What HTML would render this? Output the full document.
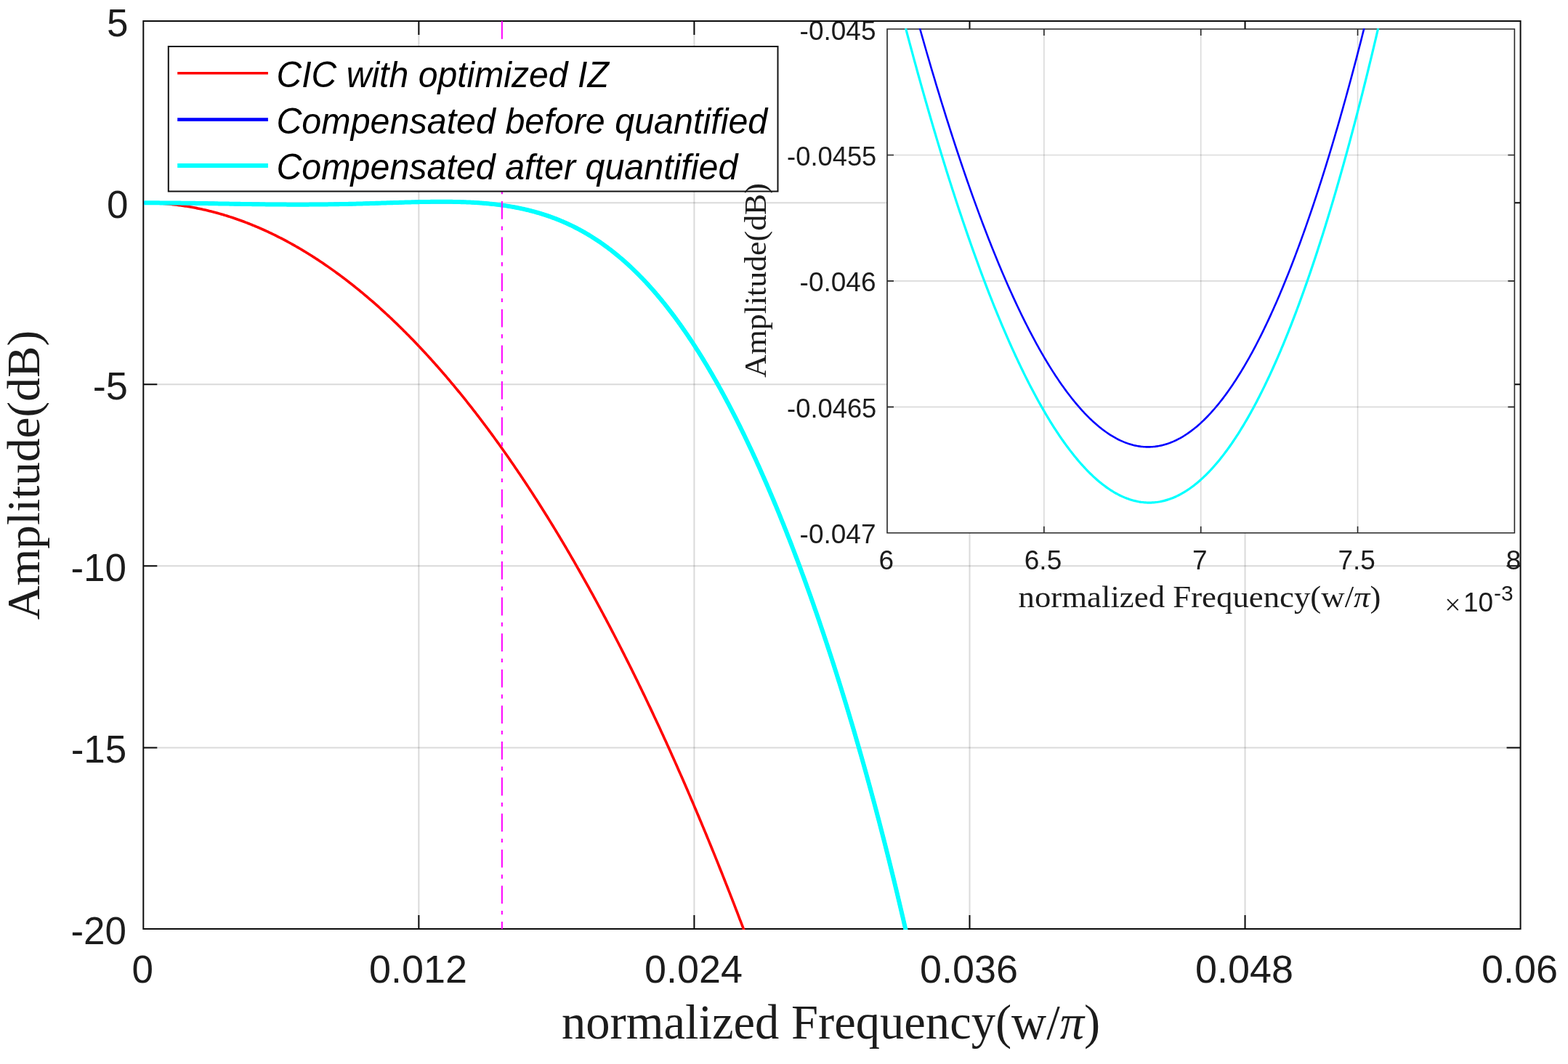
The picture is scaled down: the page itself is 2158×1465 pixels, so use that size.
<!DOCTYPE html>
<html><head><meta charset="utf-8"><title>plot</title>
<style>html,body{margin:0;padding:0;background:#fff;}svg{display:block;}</style>
</head><body>
<svg width="2158" height="1465" viewBox="0 0 2158 1465">
<rect x="0" y="0" width="2158" height="1465" fill="#fff"/>
<defs><clipPath id="cm"><rect x="198.3" y="28.0" width="1893.3" height="1252.0"/></clipPath><clipPath id="ci"><rect x="1220.2" y="39.2" width="865.0000000000001" height="695.4"/></clipPath></defs>
<g stroke="#262626" stroke-opacity="0.17" stroke-width="2" fill="none"><path d="M576.36,29.3V1279.4"/><path d="M955.42,29.3V1279.4"/><path d="M1334.48,29.3V1279.4"/><path d="M1713.54,29.3V1279.4"/><path d="M197.3,279.32H2092.6"/><path d="M197.3,529.34H2092.6"/><path d="M197.3,779.36H2092.6"/><path d="M197.3,1029.38H2092.6"/></g>
<path d="M197.3,29.0H2092.6V1279.0H197.3ZM576.36,1279.0v-19M576.36,29.0v19M955.42,1279.0v-19M955.42,29.0v19M1334.48,1279.0v-19M1334.48,29.0v19M1713.54,1279.0v-19M1713.54,29.0v19M197.3,279.32h19M2092.6,279.32h-19M197.3,529.34h19M2092.6,529.34h-19M197.3,779.36h19M2092.6,779.36h-19M197.3,1029.38h19M2092.6,1029.38h-19" stroke="#0c0c0c" stroke-width="2" fill="none"/>
<g clip-path="url(#cm)" fill="none" stroke-linejoin="round">
<path d="M197.30,279.32 L198.71,279.32 L200.13,279.33 L201.54,279.34 L202.95,279.36 L204.37,279.39 L205.78,279.42 L207.19,279.45 L208.61,279.49 L210.02,279.54 L211.43,279.59 L212.85,279.65 L214.26,279.71 L215.67,279.78 L217.09,279.85 L218.50,279.93 L219.91,280.01 L221.33,280.10 L222.74,280.19 L224.15,280.29 L225.57,280.40 L226.98,280.51 L228.39,280.63 L229.81,280.75 L231.22,280.87 L232.63,281.01 L234.05,281.14 L235.46,281.29 L236.87,281.44 L238.29,281.59 L239.70,281.75 L241.11,281.91 L242.53,282.08 L243.94,282.26 L245.35,282.44 L246.77,282.63 L248.18,282.82 L249.59,283.02 L251.01,283.22 L252.42,283.43 L253.83,283.64 L255.25,283.86 L256.66,284.08 L258.07,284.31 L259.49,284.55 L260.90,284.79 L262.31,285.03 L263.73,285.28 L265.14,285.54 L266.55,285.80 L267.97,286.07 L269.38,286.34 L270.79,286.62 L272.20,286.91 L273.62,287.20 L275.03,287.49 L276.44,287.79 L277.86,288.10 L279.27,288.41 L280.68,288.72 L282.10,289.04 L283.51,289.37 L284.92,289.70 L286.34,290.04 L287.75,290.38 L289.16,290.73 L290.58,291.09 L291.99,291.45 L293.40,291.81 L294.82,292.18 L296.23,292.56 L297.64,292.94 L299.06,293.33 L300.47,293.72 L301.88,294.12 L303.30,294.52 L304.71,294.93 L306.12,295.34 L307.54,295.76 L308.95,296.19 L310.36,296.62 L311.78,297.05 L313.19,297.49 L314.60,297.94 L316.02,298.39 L317.43,298.85 L318.84,299.31 L320.26,299.78 L321.67,300.26 L323.08,300.73 L324.50,301.22 L325.91,301.71 L327.32,302.21 L328.74,302.71 L330.15,303.21 L331.56,303.73 L332.98,304.24 L334.39,304.77 L335.80,305.29 L337.22,305.83 L338.63,306.37 L340.04,306.91 L341.46,307.46 L342.87,308.02 L344.28,308.58 L345.70,309.15 L347.11,309.72 L348.52,310.30 L349.94,310.88 L351.35,311.47 L352.76,312.06 L354.18,312.66 L355.59,313.27 L357.00,313.88 L358.42,314.49 L359.83,315.11 L361.24,315.74 L362.66,316.37 L364.07,317.01 L365.48,317.66 L366.90,318.31 L368.31,318.96 L369.72,319.62 L371.14,320.29 L372.55,320.96 L373.96,321.63 L375.38,322.31 L376.79,323.00 L378.20,323.70 L379.62,324.39 L381.03,325.10 L382.44,325.81 L383.86,326.52 L385.27,327.24 L386.68,327.97 L388.10,328.70 L389.51,329.44 L390.92,330.18 L392.34,330.93 L393.75,331.68 L395.16,332.44 L396.58,333.21 L397.99,333.98 L399.40,334.75 L400.82,335.53 L402.23,336.32 L403.64,337.11 L405.06,337.91 L406.47,338.72 L407.88,339.53 L409.30,340.34 L410.71,341.16 L412.12,341.99 L413.54,342.82 L414.95,343.65 L416.36,344.50 L417.77,345.35 L419.19,346.20 L420.60,347.06 L422.01,347.92 L423.43,348.79 L424.84,349.67 L426.25,350.55 L427.67,351.44 L429.08,352.33 L430.49,353.23 L431.91,354.13 L433.32,355.04 L434.73,355.96 L436.15,356.88 L437.56,357.81 L438.97,358.74 L440.39,359.67 L441.80,360.62 L443.21,361.57 L444.63,362.52 L446.04,363.48 L447.45,364.45 L448.87,365.42 L450.28,366.39 L451.69,367.38 L453.11,368.36 L454.52,369.36 L455.93,370.36 L457.35,371.36 L458.76,372.37 L460.17,373.39 L461.59,374.41 L463.00,375.44 L464.41,376.47 L465.83,377.51 L467.24,378.56 L468.65,379.61 L470.07,380.66 L471.48,381.72 L472.89,382.79 L474.31,383.86 L475.72,384.94 L477.13,386.03 L478.55,387.12 L479.96,388.21 L481.37,389.31 L482.79,390.42 L484.20,391.53 L485.61,392.65 L487.03,393.77 L488.44,394.90 L489.85,396.04 L491.27,397.18 L492.68,398.33 L494.09,399.48 L495.51,400.64 L496.92,401.80 L498.33,402.97 L499.75,404.15 L501.16,405.33 L502.57,406.51 L503.99,407.71 L505.40,408.91 L506.81,410.11 L508.23,411.32 L509.64,412.54 L511.05,413.76 L512.47,414.98 L513.88,416.22 L515.29,417.46 L516.71,418.70 L518.12,419.95 L519.53,421.21 L520.95,422.47 L522.36,423.73 L523.77,425.01 L525.19,426.29 L526.60,427.57 L528.01,428.86 L529.43,430.16 L530.84,431.46 L532.25,432.77 L533.67,434.08 L535.08,435.40 L536.49,436.73 L537.91,438.06 L539.32,439.40 L540.73,440.74 L542.15,442.09 L543.56,443.44 L544.97,444.80 L546.39,446.17 L547.80,447.54 L549.21,448.92 L550.63,450.30 L552.04,451.69 L553.45,453.09 L554.87,454.49 L556.28,455.90 L557.69,457.31 L559.11,458.73 L560.52,460.15 L561.93,461.58 L563.34,463.02 L564.76,464.46 L566.17,465.91 L567.58,467.37 L569.00,468.83 L570.41,470.29 L571.82,471.76 L573.24,473.24 L574.65,474.73 L576.06,476.22 L577.48,477.71 L578.89,479.21 L580.30,480.72 L581.72,482.23 L583.13,483.75 L584.54,485.28 L585.96,486.81 L587.37,488.35 L588.78,489.89 L590.20,491.44 L591.61,493.00 L593.02,494.56 L594.44,496.12 L595.85,497.70 L597.26,499.28 L598.68,500.86 L600.09,502.45 L601.50,504.05 L602.92,505.65 L604.33,507.26 L605.74,508.88 L607.16,510.50 L608.57,512.13 L609.98,513.76 L611.40,515.40 L612.81,517.04 L614.22,518.70 L615.64,520.35 L617.05,522.02 L618.46,523.69 L619.88,525.36 L621.29,527.04 L622.70,528.73 L624.12,530.43 L625.53,532.13 L626.94,533.83 L628.36,535.54 L629.77,537.26 L631.18,538.99 L632.60,540.72 L634.01,542.45 L635.42,544.20 L636.84,545.95 L638.25,547.70 L639.66,549.46 L641.08,551.23 L642.49,553.00 L643.90,554.78 L645.32,556.57 L646.73,558.36 L648.14,560.16 L649.56,561.96 L650.97,563.77 L652.38,565.59 L653.80,567.41 L655.21,569.24 L656.62,571.08 L658.04,572.92 L659.45,574.77 L660.86,576.62 L662.28,578.48 L663.69,580.35 L665.10,582.22 L666.52,584.10 L667.93,585.98 L669.34,587.87 L670.76,589.77 L672.17,591.68 L673.58,593.59 L675.00,595.50 L676.41,597.42 L677.82,599.35 L679.24,601.29 L680.65,603.23 L682.06,605.18 L683.48,607.13 L684.89,609.09 L686.30,611.06 L687.72,613.03 L689.13,615.01 L690.54,617.00 L691.96,618.99 L693.37,620.99 L694.78,622.99 L696.20,625.01 L697.61,627.02 L699.02,629.05 L700.44,631.08 L701.85,633.11 L703.26,635.16 L704.68,637.21 L706.09,639.26 L707.50,641.33 L708.91,643.40 L710.33,645.47 L711.74,647.55 L713.15,649.64 L714.57,651.74 L715.98,653.84 L717.39,655.94 L718.81,658.06 L720.22,660.18 L721.63,662.31 L723.05,664.44 L724.46,666.58 L725.87,668.73 L727.29,670.88 L728.70,673.04 L730.11,675.20 L731.53,677.38 L732.94,679.56 L734.35,681.74 L735.77,683.93 L737.18,686.13 L738.59,688.34 L740.01,690.55 L741.42,692.77 L742.83,694.99 L744.25,697.23 L745.66,699.46 L747.07,701.71 L748.49,703.96 L749.90,706.22 L751.31,708.48 L752.73,710.76 L754.14,713.03 L755.55,715.32 L756.97,717.61 L758.38,719.91 L759.79,722.21 L761.21,724.53 L762.62,726.84 L764.03,729.17 L765.45,731.50 L766.86,733.84 L768.27,736.18 L769.69,738.54 L771.10,740.89 L772.51,743.26 L773.93,745.63 L775.34,748.01 L776.75,750.40 L778.17,752.79 L779.58,755.19 L780.99,757.59 L782.41,760.01 L783.82,762.43 L785.23,764.85 L786.65,767.29 L788.06,769.73 L789.47,772.17 L790.89,774.63 L792.30,777.09 L793.71,779.55 L795.13,782.03 L796.54,784.51 L797.95,787.00 L799.37,789.49 L800.78,792.00 L802.19,794.51 L803.61,797.02 L805.02,799.54 L806.43,802.07 L807.85,804.61 L809.26,807.15 L810.67,809.71 L812.09,812.26 L813.50,814.83 L814.91,817.40 L816.33,819.98 L817.74,822.56 L819.15,825.16 L820.57,827.76 L821.98,830.36 L823.39,832.98 L824.81,835.60 L826.22,838.23 L827.63,840.86 L829.05,843.50 L830.46,846.15 L831.87,848.81 L833.29,851.47 L834.70,854.14 L836.11,856.82 L837.53,859.51 L838.94,862.20 L840.35,864.90 L841.77,867.61 L843.18,870.32 L844.59,873.04 L846.01,875.77 L847.42,878.50 L848.83,881.25 L850.25,884.00 L851.66,886.75 L853.07,889.52 L854.48,892.29 L855.90,895.07 L857.31,897.85 L858.72,900.65 L860.14,903.45 L861.55,906.26 L862.96,909.07 L864.38,911.90 L865.79,914.73 L867.20,917.56 L868.62,920.41 L870.03,923.26 L871.44,926.12 L872.86,928.99 L874.27,931.86 L875.68,934.74 L877.10,937.63 L878.51,940.53 L879.92,943.44 L881.34,946.35 L882.75,949.27 L884.16,952.19 L885.58,955.13 L886.99,958.07 L888.40,961.02 L889.82,963.98 L891.23,966.94 L892.64,969.91 L894.06,972.89 L895.47,975.88 L896.88,978.87 L898.30,981.88 L899.71,984.89 L901.12,987.90 L902.54,990.93 L903.95,993.96 L905.36,997.00 L906.78,1000.05 L908.19,1003.11 L909.60,1006.17 L911.02,1009.24 L912.43,1012.32 L913.84,1015.41 L915.26,1018.50 L916.67,1021.61 L918.08,1024.72 L919.50,1027.84 L920.91,1030.96 L922.32,1034.10 L923.74,1037.24 L925.15,1040.39 L926.56,1043.54 L927.98,1046.71 L929.39,1049.88 L930.80,1053.06 L932.22,1056.25 L933.63,1059.45 L935.04,1062.65 L936.46,1065.86 L937.87,1069.09 L939.28,1072.31 L940.70,1075.55 L942.11,1078.79 L943.52,1082.05 L944.94,1085.31 L946.35,1088.58 L947.76,1091.85 L949.18,1095.14 L950.59,1098.43 L952.00,1101.73 L953.42,1105.04 L954.83,1108.36 L956.24,1111.68 L957.66,1115.02 L959.07,1118.36 L960.48,1121.71 L961.90,1125.07 L963.31,1128.43 L964.72,1131.81 L966.14,1135.19 L967.55,1138.58 L968.96,1141.98 L970.38,1145.39 L971.79,1148.80 L973.20,1152.23 L974.62,1155.66 L976.03,1159.10 L977.44,1162.55 L978.86,1166.00 L980.27,1169.47 L981.68,1172.94 L983.10,1176.43 L984.51,1179.92 L985.92,1183.42 L987.34,1186.93 L988.75,1190.44 L990.16,1193.97 L991.58,1197.50 L992.99,1201.04 L994.40,1204.59 L995.82,1208.15 L997.23,1211.72 L998.64,1215.29 L1000.06,1218.88 L1001.47,1222.47 L1002.88,1226.07 L1004.29,1229.69 L1005.71,1233.30 L1007.12,1236.93 L1008.53,1240.57 L1009.95,1244.21 L1011.36,1247.87 L1012.77,1251.53 L1014.19,1255.20 L1015.60,1258.88 L1017.01,1262.57 L1018.43,1266.27 L1019.84,1269.98 L1021.25,1273.69 L1022.67,1277.42 L1024.08,1281.15 L1025.49,1284.89 L1026.91,1288.65 L1028.32,1292.41 L1029.73,1296.18 L1031.15,1299.95 L1032.56,1303.74 L1033.97,1307.54 L1035.39,1311.34 L1036.80,1315.16 L1038.21,1318.98 L1039.63,1322.81 L1041.04,1326.65 L1042.45,1330.50 L1043.87,1334.36" stroke="#ff0000" stroke-width="3.6"/>
<path d="M197.30,279.32 L198.85,279.32 L200.39,279.32 L201.94,279.32 L203.48,279.32 L205.03,279.33 L206.57,279.33 L208.12,279.33 L209.66,279.34 L211.21,279.34 L212.76,279.35 L214.30,279.35 L215.85,279.36 L217.39,279.37 L218.94,279.37 L220.48,279.38 L222.03,279.39 L223.57,279.40 L225.12,279.41 L226.66,279.42 L228.21,279.43 L229.76,279.44 L231.30,279.45 L232.85,279.46 L234.39,279.48 L235.94,279.49 L237.48,279.50 L239.03,279.52 L240.57,279.53 L242.12,279.55 L243.67,279.56 L245.21,279.58 L246.76,279.59 L248.30,279.61 L249.85,279.63 L251.39,279.65 L252.94,279.66 L254.48,279.68 L256.03,279.70 L257.58,279.72 L259.12,279.74 L260.67,279.76 L262.21,279.78 L263.76,279.80 L265.30,279.82 L266.85,279.84 L268.39,279.87 L269.94,279.89 L271.49,279.91 L273.03,279.93 L274.58,279.95 L276.12,279.98 L277.67,280.00 L279.21,280.03 L280.76,280.05 L282.30,280.07 L283.85,280.10 L285.39,280.12 L286.94,280.15 L288.49,280.17 L290.03,280.20 L291.58,280.22 L293.12,280.25 L294.67,280.27 L296.21,280.30 L297.76,280.33 L299.30,280.35 L300.85,280.38 L302.40,280.40 L303.94,280.43 L305.49,280.46 L307.03,280.48 L308.58,280.51 L310.12,280.54 L311.67,280.56 L313.21,280.59 L314.76,280.61 L316.31,280.64 L317.85,280.67 L319.40,280.69 L320.94,280.72 L322.49,280.75 L324.03,280.77 L325.58,280.80 L327.12,280.82 L328.67,280.85 L330.22,280.87 L331.76,280.90 L333.31,280.92 L334.85,280.95 L336.40,280.97 L337.94,281.00 L339.49,281.02 L341.03,281.05 L342.58,281.07 L344.12,281.09 L345.67,281.12 L347.22,281.14 L348.76,281.16 L350.31,281.18 L351.85,281.21 L353.40,281.23 L354.94,281.25 L356.49,281.27 L358.03,281.29 L359.58,281.31 L361.13,281.33 L362.67,281.35 L364.22,281.37 L365.76,281.38 L367.31,281.40 L368.85,281.42 L370.40,281.44 L371.94,281.45 L373.49,281.47 L375.04,281.48 L376.58,281.50 L378.13,281.51 L379.67,281.52 L381.22,281.54 L382.76,281.55 L384.31,281.56 L385.85,281.57 L387.40,281.58 L388.94,281.59 L390.49,281.60 L392.04,281.61 L393.58,281.62 L395.13,281.63 L396.67,281.63 L398.22,281.64 L399.76,281.64 L401.31,281.65 L402.85,281.65 L404.40,281.66 L405.95,281.66 L407.49,281.66 L409.04,281.66 L410.58,281.66 L412.13,281.66 L413.67,281.66 L415.22,281.66 L416.76,281.65 L418.31,281.65 L419.86,281.65 L421.40,281.64 L422.95,281.64 L424.49,281.63 L426.04,281.62 L427.58,281.61 L429.13,281.60 L430.67,281.59 L432.22,281.58 L433.77,281.57 L435.31,281.56 L436.86,281.55 L438.40,281.53 L439.95,281.52 L441.49,281.50 L443.04,281.49 L444.58,281.47 L446.13,281.45 L447.67,281.43 L449.22,281.41 L450.77,281.39 L452.31,281.37 L453.86,281.35 L455.40,281.33 L456.95,281.30 L458.49,281.28 L460.04,281.25 L461.58,281.23 L463.13,281.20 L464.68,281.17 L466.22,281.14 L467.77,281.11 L469.31,281.08 L470.86,281.05 L472.40,281.02 L473.95,280.99 L475.49,280.96 L477.04,280.92 L478.59,280.89 L480.13,280.86 L481.68,280.82 L483.22,280.78 L484.77,280.75 L486.31,280.71 L487.86,280.67 L489.40,280.63 L490.95,280.59 L492.50,280.55 L494.04,280.51 L495.59,280.47 L497.13,280.43 L498.68,280.39 L500.22,280.35 L501.77,280.30 L503.31,280.26 L504.86,280.22 L506.40,280.17 L507.95,280.13 L509.50,280.08 L511.04,280.04 L512.59,279.99 L514.13,279.94 L515.68,279.90 L517.22,279.85 L518.77,279.80 L520.31,279.76 L521.86,279.71 L523.41,279.66 L524.95,279.61 L526.50,279.56 L528.04,279.52 L529.59,279.47 L531.13,279.42 L532.68,279.37 L534.22,279.32 L535.77,279.28 L537.32,279.23 L538.86,279.18 L540.41,279.13 L541.95,279.08 L543.50,279.04 L545.04,278.99 L546.59,278.94 L548.13,278.90 L549.68,278.85 L551.22,278.80 L552.77,278.76 L554.32,278.71 L555.86,278.67 L557.41,278.62 L558.95,278.58 L560.50,278.54 L562.04,278.50 L563.59,278.45 L565.13,278.41 L566.68,278.37 L568.23,278.33 L569.77,278.30 L571.32,278.26 L572.86,278.22 L574.41,278.19 L575.95,278.15 L577.50,278.12 L579.04,278.09 L580.59,278.06 L582.14,278.03 L583.68,278.00 L585.23,277.97 L586.77,277.94 L588.32,277.92 L589.86,277.90 L591.41,277.88 L592.95,277.86 L594.50,277.84 L596.05,277.82 L597.59,277.81 L599.14,277.79 L600.68,277.78 L602.23,277.77 L603.77,277.77 L605.32,277.76 L606.86,277.76 L608.41,277.76 L609.95,277.76 L611.50,277.76 L613.05,277.77 L614.59,277.78 L616.14,277.79 L617.68,277.80 L619.23,277.81 L620.77,277.83 L622.32,277.85 L623.86,277.88 L625.41,277.90 L626.96,277.93 L628.50,277.97 L630.05,278.00 L631.59,278.04 L633.14,278.08 L634.68,278.13 L636.23,278.17 L637.77,278.22 L639.32,278.28 L640.87,278.34 L642.41,278.40 L643.96,278.46 L645.50,278.53 L647.05,278.61 L648.59,278.68 L650.14,278.76 L651.68,278.85 L653.23,278.94 L654.77,279.03 L656.32,279.13 L657.87,279.23 L659.41,279.33 L660.96,279.44 L662.50,279.56 L664.05,279.67 L665.59,279.80 L667.14,279.93 L668.68,280.06 L670.23,280.20 L671.78,280.34 L673.32,280.49 L674.87,280.64 L676.41,280.80 L677.96,280.96 L679.50,281.13 L681.05,281.31 L682.59,281.48 L684.14,281.67 L685.69,281.86 L687.23,282.06 L688.78,282.26 L690.32,282.47 L691.87,282.68 L693.41,282.90 L694.96,283.13 L696.50,283.36 L698.05,283.60 L699.60,283.85 L701.14,284.10 L702.69,284.36 L704.23,284.62 L705.78,284.89 L707.32,285.17 L708.87,285.46 L710.41,285.75 L711.96,286.05 L713.50,286.36 L715.05,286.67 L716.60,286.99 L718.14,287.32 L719.69,287.66 L721.23,288.00 L722.78,288.35 L724.32,288.71 L725.87,289.08 L727.41,289.45 L728.96,289.84 L730.51,290.23 L732.05,290.63 L733.60,291.03 L735.14,291.45 L736.69,291.87 L738.23,292.31 L739.78,292.75 L741.32,293.20 L742.87,293.66 L744.42,294.12 L745.96,294.60 L747.51,295.09 L749.05,295.58 L750.60,296.08 L752.14,296.60 L753.69,297.12 L755.23,297.65 L756.78,298.19 L758.33,298.75 L759.87,299.31 L761.42,299.88 L762.96,300.46 L764.51,301.05 L766.05,301.65 L767.60,302.26 L769.14,302.88 L770.69,303.51 L772.23,304.16 L773.78,304.81 L775.33,305.47 L776.87,306.15 L778.42,306.83 L779.96,307.53 L781.51,308.23 L783.05,308.95 L784.60,309.68 L786.14,310.42 L787.69,311.17 L789.24,311.93 L790.78,312.70 L792.33,313.49 L793.87,314.28 L795.42,315.09 L796.96,315.91 L798.51,316.75 L800.05,317.59 L801.60,318.44 L803.15,319.31 L804.69,320.19 L806.24,321.08 L807.78,321.99 L809.33,322.91 L810.87,323.84 L812.42,324.78 L813.96,325.73 L815.51,326.70 L817.05,327.68 L818.60,328.67 L820.15,329.68 L821.69,330.70 L823.24,331.73 L824.78,332.77 L826.33,333.83 L827.87,334.90 L829.42,335.99 L830.96,337.09 L832.51,338.20 L834.06,339.32 L835.60,340.46 L837.15,341.62 L838.69,342.78 L840.24,343.96 L841.78,345.16 L843.33,346.37 L844.87,347.59 L846.42,348.83 L847.97,350.08 L849.51,351.34 L851.06,352.62 L852.60,353.92 L854.15,355.23 L855.69,356.55 L857.24,357.89 L858.78,359.24 L860.33,360.61 L861.88,361.99 L863.42,363.39 L864.97,364.80 L866.51,366.23 L868.06,367.67 L869.60,369.13 L871.15,370.60 L872.69,372.08 L874.24,373.59 L875.78,375.11 L877.33,376.64 L878.88,378.19 L880.42,379.75 L881.97,381.33 L883.51,382.93 L885.06,384.54 L886.60,386.17 L888.15,387.81 L889.69,389.47 L891.24,391.15 L892.79,392.84 L894.33,394.54 L895.88,396.27 L897.42,398.01 L898.97,399.76 L900.51,401.53 L902.06,403.32 L903.60,405.12 L905.15,406.94 L906.70,408.78 L908.24,410.63 L909.79,412.50 L911.33,414.39 L912.88,416.29 L914.42,418.21 L915.97,420.15 L917.51,422.10 L919.06,424.07 L920.61,426.06 L922.15,428.06 L923.70,430.08 L925.24,432.12 L926.79,434.17 L928.33,436.24 L929.88,438.33 L931.42,440.43 L932.97,442.55 L934.51,444.69 L936.06,446.85 L937.61,449.02 L939.15,451.21 L940.70,453.42 L942.24,455.65 L943.79,457.89 L945.33,460.15 L946.88,462.43 L948.42,464.72 L949.97,467.03 L951.52,469.36 L953.06,471.71 L954.61,474.07 L956.15,476.45 L957.70,478.85 L959.24,481.27 L960.79,483.71 L962.33,486.16 L963.88,488.63 L965.43,491.12 L966.97,493.62 L968.52,496.15 L970.06,498.69 L971.61,501.25 L973.15,503.82 L974.70,506.42 L976.24,509.03 L977.79,511.66 L979.33,514.31 L980.88,516.98 L982.43,519.66 L983.97,522.37 L985.52,525.09 L987.06,527.83 L988.61,530.58 L990.15,533.36 L991.70,536.15 L993.24,538.96 L994.79,541.79 L996.34,544.64 L997.88,547.51 L999.43,550.39 L1000.97,553.29 L1002.52,556.21 L1004.06,559.15 L1005.61,562.11 L1007.15,565.09 L1008.70,568.08 L1010.25,571.09 L1011.79,574.12 L1013.34,577.17 L1014.88,580.24 L1016.43,583.33 L1017.97,586.43 L1019.52,589.55 L1021.06,592.70 L1022.61,595.86 L1024.16,599.04 L1025.70,602.23 L1027.25,605.45 L1028.79,608.68 L1030.34,611.94 L1031.88,615.21 L1033.43,618.50 L1034.97,621.81 L1036.52,625.14 L1038.06,628.49 L1039.61,631.85 L1041.16,635.24 L1042.70,638.64 L1044.25,642.06 L1045.79,645.50 L1047.34,648.97 L1048.88,652.45 L1050.43,655.94 L1051.97,659.46 L1053.52,663.00 L1055.07,666.55 L1056.61,670.13 L1058.16,673.72 L1059.70,677.34 L1061.25,680.97 L1062.79,684.62 L1064.34,688.29 L1065.88,691.98 L1067.43,695.69 L1068.98,699.42 L1070.52,703.17 L1072.07,706.94 L1073.61,710.73 L1075.16,714.54 L1076.70,718.37 L1078.25,722.21 L1079.79,726.08 L1081.34,729.97 L1082.89,733.87 L1084.43,737.80 L1085.98,741.75 L1087.52,745.71 L1089.07,749.70 L1090.61,753.71 L1092.16,757.73 L1093.70,761.78 L1095.25,765.85 L1096.79,769.93 L1098.34,774.04 L1099.89,778.17 L1101.43,782.32 L1102.98,786.49 L1104.52,790.68 L1106.07,794.89 L1107.61,799.12 L1109.16,803.38 L1110.70,807.65 L1112.25,811.95 L1113.80,816.26 L1115.34,820.60 L1116.89,824.96 L1118.43,829.34 L1119.98,833.74 L1121.52,838.17 L1123.07,842.61 L1124.61,847.08 L1126.16,851.57 L1127.71,856.08 L1129.25,860.61 L1130.80,865.16 L1132.34,869.74 L1133.89,874.34 L1135.43,878.96 L1136.98,883.61 L1138.52,888.28 L1140.07,892.97 L1141.61,897.68 L1143.16,902.42 L1144.71,907.18 L1146.25,911.96 L1147.80,916.77 L1149.34,921.60 L1150.89,926.45 L1152.43,931.33 L1153.98,936.23 L1155.52,941.15 L1157.07,946.10 L1158.62,951.08 L1160.16,956.08 L1161.71,961.10 L1163.25,966.15 L1164.80,971.22 L1166.34,976.32 L1167.89,981.45 L1169.43,986.60 L1170.98,991.77 L1172.53,996.98 L1174.07,1002.20 L1175.62,1007.46 L1177.16,1012.74 L1178.71,1018.05 L1180.25,1023.38 L1181.80,1028.74 L1183.34,1034.13 L1184.89,1039.54 L1186.44,1044.99 L1187.98,1050.46 L1189.53,1055.96 L1191.07,1061.48 L1192.62,1067.04 L1194.16,1072.62 L1195.71,1078.24 L1197.25,1083.88 L1198.80,1089.55 L1200.34,1095.25 L1201.89,1100.98 L1203.44,1106.74 L1204.98,1112.53 L1206.53,1118.36 L1208.07,1124.21 L1209.62,1130.09 L1211.16,1136.01 L1212.71,1141.95 L1214.25,1147.93 L1215.80,1153.94 L1217.35,1159.98 L1218.89,1166.06 L1220.44,1172.17 L1221.98,1178.31 L1223.53,1184.48 L1225.07,1190.69 L1226.62,1196.93 L1228.16,1203.21 L1229.71,1209.52 L1231.26,1215.86 L1232.80,1222.24 L1234.35,1228.66 L1235.89,1235.11 L1237.44,1241.60 L1238.98,1248.13 L1240.53,1254.69 L1242.07,1261.28 L1243.62,1267.92 L1245.17,1274.59 L1246.71,1281.30 L1248.26,1288.05 L1249.80,1294.84 L1251.35,1301.67 L1252.89,1308.54 L1254.44,1315.44 L1255.98,1322.39 L1257.53,1329.38 L1259.07,1336.40 L1260.62,1343.47 L1262.17,1350.58 L1263.71,1357.73 L1265.26,1364.93 L1266.80,1372.16 L1268.35,1379.44 L1269.89,1386.77 L1271.44,1394.13 L1272.98,1401.54 L1274.53,1409.00 L1276.08,1416.50 L1277.62,1424.05" stroke="#0000ff" stroke-width="4.8"/>
<path d="M197.30,279.32 L198.85,279.32 L200.39,279.32 L201.94,279.32 L203.48,279.32 L205.03,279.33 L206.57,279.33 L208.12,279.33 L209.66,279.34 L211.21,279.34 L212.76,279.35 L214.30,279.35 L215.85,279.36 L217.39,279.37 L218.94,279.37 L220.48,279.38 L222.03,279.39 L223.57,279.40 L225.12,279.41 L226.66,279.42 L228.21,279.43 L229.76,279.44 L231.30,279.45 L232.85,279.46 L234.39,279.48 L235.94,279.49 L237.48,279.50 L239.03,279.52 L240.57,279.53 L242.12,279.55 L243.67,279.56 L245.21,279.58 L246.76,279.59 L248.30,279.61 L249.85,279.63 L251.39,279.65 L252.94,279.66 L254.48,279.68 L256.03,279.70 L257.58,279.72 L259.12,279.74 L260.67,279.76 L262.21,279.78 L263.76,279.80 L265.30,279.82 L266.85,279.84 L268.39,279.87 L269.94,279.89 L271.49,279.91 L273.03,279.93 L274.58,279.95 L276.12,279.98 L277.67,280.00 L279.21,280.03 L280.76,280.05 L282.30,280.07 L283.85,280.10 L285.39,280.12 L286.94,280.15 L288.49,280.17 L290.03,280.20 L291.58,280.22 L293.12,280.25 L294.67,280.27 L296.21,280.30 L297.76,280.33 L299.30,280.35 L300.85,280.38 L302.40,280.40 L303.94,280.43 L305.49,280.46 L307.03,280.48 L308.58,280.51 L310.12,280.54 L311.67,280.56 L313.21,280.59 L314.76,280.61 L316.31,280.64 L317.85,280.67 L319.40,280.69 L320.94,280.72 L322.49,280.75 L324.03,280.77 L325.58,280.80 L327.12,280.82 L328.67,280.85 L330.22,280.87 L331.76,280.90 L333.31,280.92 L334.85,280.95 L336.40,280.97 L337.94,281.00 L339.49,281.02 L341.03,281.05 L342.58,281.07 L344.12,281.09 L345.67,281.12 L347.22,281.14 L348.76,281.16 L350.31,281.18 L351.85,281.21 L353.40,281.23 L354.94,281.25 L356.49,281.27 L358.03,281.29 L359.58,281.31 L361.13,281.33 L362.67,281.35 L364.22,281.37 L365.76,281.38 L367.31,281.40 L368.85,281.42 L370.40,281.44 L371.94,281.45 L373.49,281.47 L375.04,281.48 L376.58,281.50 L378.13,281.51 L379.67,281.52 L381.22,281.54 L382.76,281.55 L384.31,281.56 L385.85,281.57 L387.40,281.58 L388.94,281.59 L390.49,281.60 L392.04,281.61 L393.58,281.62 L395.13,281.63 L396.67,281.63 L398.22,281.64 L399.76,281.64 L401.31,281.65 L402.85,281.65 L404.40,281.66 L405.95,281.66 L407.49,281.66 L409.04,281.66 L410.58,281.66 L412.13,281.66 L413.67,281.66 L415.22,281.66 L416.76,281.65 L418.31,281.65 L419.86,281.65 L421.40,281.64 L422.95,281.64 L424.49,281.63 L426.04,281.62 L427.58,281.61 L429.13,281.60 L430.67,281.59 L432.22,281.58 L433.77,281.57 L435.31,281.56 L436.86,281.55 L438.40,281.53 L439.95,281.52 L441.49,281.50 L443.04,281.49 L444.58,281.47 L446.13,281.45 L447.67,281.43 L449.22,281.41 L450.77,281.39 L452.31,281.37 L453.86,281.35 L455.40,281.33 L456.95,281.30 L458.49,281.28 L460.04,281.25 L461.58,281.23 L463.13,281.20 L464.68,281.17 L466.22,281.14 L467.77,281.11 L469.31,281.08 L470.86,281.05 L472.40,281.02 L473.95,280.99 L475.49,280.96 L477.04,280.92 L478.59,280.89 L480.13,280.86 L481.68,280.82 L483.22,280.78 L484.77,280.75 L486.31,280.71 L487.86,280.67 L489.40,280.63 L490.95,280.59 L492.50,280.55 L494.04,280.51 L495.59,280.47 L497.13,280.43 L498.68,280.39 L500.22,280.35 L501.77,280.30 L503.31,280.26 L504.86,280.22 L506.40,280.17 L507.95,280.13 L509.50,280.08 L511.04,280.04 L512.59,279.99 L514.13,279.94 L515.68,279.90 L517.22,279.85 L518.77,279.80 L520.31,279.76 L521.86,279.71 L523.41,279.66 L524.95,279.61 L526.50,279.56 L528.04,279.52 L529.59,279.47 L531.13,279.42 L532.68,279.37 L534.22,279.32 L535.77,279.28 L537.32,279.23 L538.86,279.18 L540.41,279.13 L541.95,279.08 L543.50,279.04 L545.04,278.99 L546.59,278.94 L548.13,278.90 L549.68,278.85 L551.22,278.80 L552.77,278.76 L554.32,278.71 L555.86,278.67 L557.41,278.62 L558.95,278.58 L560.50,278.54 L562.04,278.50 L563.59,278.45 L565.13,278.41 L566.68,278.37 L568.23,278.33 L569.77,278.30 L571.32,278.26 L572.86,278.22 L574.41,278.19 L575.95,278.15 L577.50,278.12 L579.04,278.09 L580.59,278.06 L582.14,278.03 L583.68,278.00 L585.23,277.97 L586.77,277.94 L588.32,277.92 L589.86,277.90 L591.41,277.88 L592.95,277.86 L594.50,277.84 L596.05,277.82 L597.59,277.81 L599.14,277.79 L600.68,277.78 L602.23,277.77 L603.77,277.77 L605.32,277.76 L606.86,277.76 L608.41,277.76 L609.95,277.76 L611.50,277.76 L613.05,277.77 L614.59,277.78 L616.14,277.79 L617.68,277.80 L619.23,277.81 L620.77,277.83 L622.32,277.85 L623.86,277.88 L625.41,277.90 L626.96,277.93 L628.50,277.97 L630.05,278.00 L631.59,278.04 L633.14,278.08 L634.68,278.13 L636.23,278.17 L637.77,278.22 L639.32,278.28 L640.87,278.34 L642.41,278.40 L643.96,278.46 L645.50,278.53 L647.05,278.61 L648.59,278.68 L650.14,278.76 L651.68,278.85 L653.23,278.94 L654.77,279.03 L656.32,279.13 L657.87,279.23 L659.41,279.33 L660.96,279.44 L662.50,279.56 L664.05,279.67 L665.59,279.80 L667.14,279.93 L668.68,280.06 L670.23,280.20 L671.78,280.34 L673.32,280.49 L674.87,280.64 L676.41,280.80 L677.96,280.96 L679.50,281.13 L681.05,281.31 L682.59,281.48 L684.14,281.67 L685.69,281.86 L687.23,282.06 L688.78,282.26 L690.32,282.47 L691.87,282.68 L693.41,282.90 L694.96,283.13 L696.50,283.36 L698.05,283.60 L699.60,283.85 L701.14,284.10 L702.69,284.36 L704.23,284.62 L705.78,284.89 L707.32,285.17 L708.87,285.46 L710.41,285.75 L711.96,286.05 L713.50,286.36 L715.05,286.67 L716.60,286.99 L718.14,287.32 L719.69,287.66 L721.23,288.00 L722.78,288.35 L724.32,288.71 L725.87,289.08 L727.41,289.45 L728.96,289.84 L730.51,290.23 L732.05,290.63 L733.60,291.03 L735.14,291.45 L736.69,291.87 L738.23,292.31 L739.78,292.75 L741.32,293.20 L742.87,293.66 L744.42,294.12 L745.96,294.60 L747.51,295.09 L749.05,295.58 L750.60,296.08 L752.14,296.60 L753.69,297.12 L755.23,297.65 L756.78,298.19 L758.33,298.75 L759.87,299.31 L761.42,299.88 L762.96,300.46 L764.51,301.05 L766.05,301.65 L767.60,302.26 L769.14,302.88 L770.69,303.51 L772.23,304.16 L773.78,304.81 L775.33,305.47 L776.87,306.15 L778.42,306.83 L779.96,307.53 L781.51,308.23 L783.05,308.95 L784.60,309.68 L786.14,310.42 L787.69,311.17 L789.24,311.93 L790.78,312.70 L792.33,313.49 L793.87,314.28 L795.42,315.09 L796.96,315.91 L798.51,316.75 L800.05,317.59 L801.60,318.44 L803.15,319.31 L804.69,320.19 L806.24,321.08 L807.78,321.99 L809.33,322.91 L810.87,323.84 L812.42,324.78 L813.96,325.73 L815.51,326.70 L817.05,327.68 L818.60,328.67 L820.15,329.68 L821.69,330.70 L823.24,331.73 L824.78,332.77 L826.33,333.83 L827.87,334.90 L829.42,335.99 L830.96,337.09 L832.51,338.20 L834.06,339.32 L835.60,340.46 L837.15,341.62 L838.69,342.78 L840.24,343.96 L841.78,345.16 L843.33,346.37 L844.87,347.59 L846.42,348.83 L847.97,350.08 L849.51,351.34 L851.06,352.62 L852.60,353.92 L854.15,355.23 L855.69,356.55 L857.24,357.89 L858.78,359.24 L860.33,360.61 L861.88,361.99 L863.42,363.39 L864.97,364.80 L866.51,366.23 L868.06,367.67 L869.60,369.13 L871.15,370.60 L872.69,372.08 L874.24,373.59 L875.78,375.11 L877.33,376.64 L878.88,378.19 L880.42,379.75 L881.97,381.33 L883.51,382.93 L885.06,384.54 L886.60,386.17 L888.15,387.81 L889.69,389.47 L891.24,391.15 L892.79,392.84 L894.33,394.54 L895.88,396.27 L897.42,398.01 L898.97,399.76 L900.51,401.53 L902.06,403.32 L903.60,405.12 L905.15,406.94 L906.70,408.78 L908.24,410.63 L909.79,412.50 L911.33,414.39 L912.88,416.29 L914.42,418.21 L915.97,420.15 L917.51,422.10 L919.06,424.07 L920.61,426.06 L922.15,428.06 L923.70,430.08 L925.24,432.12 L926.79,434.17 L928.33,436.24 L929.88,438.33 L931.42,440.43 L932.97,442.55 L934.51,444.69 L936.06,446.85 L937.61,449.02 L939.15,451.21 L940.70,453.42 L942.24,455.65 L943.79,457.89 L945.33,460.15 L946.88,462.43 L948.42,464.72 L949.97,467.03 L951.52,469.36 L953.06,471.71 L954.61,474.07 L956.15,476.45 L957.70,478.85 L959.24,481.27 L960.79,483.71 L962.33,486.16 L963.88,488.63 L965.43,491.12 L966.97,493.62 L968.52,496.15 L970.06,498.69 L971.61,501.25 L973.15,503.82 L974.70,506.42 L976.24,509.03 L977.79,511.66 L979.33,514.31 L980.88,516.98 L982.43,519.66 L983.97,522.37 L985.52,525.09 L987.06,527.83 L988.61,530.58 L990.15,533.36 L991.70,536.15 L993.24,538.96 L994.79,541.79 L996.34,544.64 L997.88,547.51 L999.43,550.39 L1000.97,553.29 L1002.52,556.21 L1004.06,559.15 L1005.61,562.11 L1007.15,565.09 L1008.70,568.08 L1010.25,571.09 L1011.79,574.12 L1013.34,577.17 L1014.88,580.24 L1016.43,583.33 L1017.97,586.43 L1019.52,589.55 L1021.06,592.70 L1022.61,595.86 L1024.16,599.04 L1025.70,602.23 L1027.25,605.45 L1028.79,608.68 L1030.34,611.94 L1031.88,615.21 L1033.43,618.50 L1034.97,621.81 L1036.52,625.14 L1038.06,628.49 L1039.61,631.85 L1041.16,635.24 L1042.70,638.64 L1044.25,642.06 L1045.79,645.50 L1047.34,648.97 L1048.88,652.45 L1050.43,655.94 L1051.97,659.46 L1053.52,663.00 L1055.07,666.55 L1056.61,670.13 L1058.16,673.72 L1059.70,677.34 L1061.25,680.97 L1062.79,684.62 L1064.34,688.29 L1065.88,691.98 L1067.43,695.69 L1068.98,699.42 L1070.52,703.17 L1072.07,706.94 L1073.61,710.73 L1075.16,714.54 L1076.70,718.37 L1078.25,722.21 L1079.79,726.08 L1081.34,729.97 L1082.89,733.87 L1084.43,737.80 L1085.98,741.75 L1087.52,745.71 L1089.07,749.70 L1090.61,753.71 L1092.16,757.73 L1093.70,761.78 L1095.25,765.85 L1096.79,769.93 L1098.34,774.04 L1099.89,778.17 L1101.43,782.32 L1102.98,786.49 L1104.52,790.68 L1106.07,794.89 L1107.61,799.12 L1109.16,803.38 L1110.70,807.65 L1112.25,811.95 L1113.80,816.26 L1115.34,820.60 L1116.89,824.96 L1118.43,829.34 L1119.98,833.74 L1121.52,838.17 L1123.07,842.61 L1124.61,847.08 L1126.16,851.57 L1127.71,856.08 L1129.25,860.61 L1130.80,865.16 L1132.34,869.74 L1133.89,874.34 L1135.43,878.96 L1136.98,883.61 L1138.52,888.28 L1140.07,892.97 L1141.61,897.68 L1143.16,902.42 L1144.71,907.18 L1146.25,911.96 L1147.80,916.77 L1149.34,921.60 L1150.89,926.45 L1152.43,931.33 L1153.98,936.23 L1155.52,941.15 L1157.07,946.10 L1158.62,951.08 L1160.16,956.08 L1161.71,961.10 L1163.25,966.15 L1164.80,971.22 L1166.34,976.32 L1167.89,981.45 L1169.43,986.60 L1170.98,991.77 L1172.53,996.98 L1174.07,1002.20 L1175.62,1007.46 L1177.16,1012.74 L1178.71,1018.05 L1180.25,1023.38 L1181.80,1028.74 L1183.34,1034.13 L1184.89,1039.54 L1186.44,1044.99 L1187.98,1050.46 L1189.53,1055.96 L1191.07,1061.48 L1192.62,1067.04 L1194.16,1072.62 L1195.71,1078.24 L1197.25,1083.88 L1198.80,1089.55 L1200.34,1095.25 L1201.89,1100.98 L1203.44,1106.74 L1204.98,1112.53 L1206.53,1118.36 L1208.07,1124.21 L1209.62,1130.09 L1211.16,1136.01 L1212.71,1141.95 L1214.25,1147.93 L1215.80,1153.94 L1217.35,1159.98 L1218.89,1166.06 L1220.44,1172.17 L1221.98,1178.31 L1223.53,1184.48 L1225.07,1190.69 L1226.62,1196.93 L1228.16,1203.21 L1229.71,1209.52 L1231.26,1215.86 L1232.80,1222.24 L1234.35,1228.66 L1235.89,1235.11 L1237.44,1241.60 L1238.98,1248.13 L1240.53,1254.69 L1242.07,1261.28 L1243.62,1267.92 L1245.17,1274.59 L1246.71,1281.30 L1248.26,1288.05 L1249.80,1294.84 L1251.35,1301.67 L1252.89,1308.54 L1254.44,1315.44 L1255.98,1322.39 L1257.53,1329.38 L1259.07,1336.40 L1260.62,1343.47 L1262.17,1350.58 L1263.71,1357.73 L1265.26,1364.93 L1266.80,1372.16 L1268.35,1379.44 L1269.89,1386.77 L1271.44,1394.13 L1272.98,1401.54 L1274.53,1409.00 L1276.08,1416.50 L1277.62,1424.05" stroke="#00ffff" stroke-width="6"/>
<path d="M690.87,29.0V1279.0" stroke="#ff00ff" stroke-width="2" stroke-dasharray="24.8 9.7 5.4 9.7"/>
</g>
<g font-family="'Liberation Sans', Arial, sans-serif" font-size="53" fill="#1c1c1c">
<text x="176.5" y="50.3" text-anchor="end">5</text>
<text x="176.5" y="300.3" text-anchor="end">0</text>
<text x="176.0" y="550.3" text-anchor="end" textLength="48.2" lengthAdjust="spacingAndGlyphs">-5</text>
<text x="174.0" y="800.4" text-anchor="end">-10</text>
<text x="174.3" y="1050.4" text-anchor="end">-15</text>
<text x="174.0" y="1300.4" text-anchor="end">-20</text>
<text x="196.3" y="1352.7" text-anchor="middle">0</text>
<text x="575.4" y="1352.7" text-anchor="middle" textLength="135.0" lengthAdjust="spacingAndGlyphs">0.012</text>
<text x="954.4" y="1352.7" text-anchor="middle" textLength="135.0" lengthAdjust="spacingAndGlyphs">0.024</text>
<text x="1333.5" y="1352.7" text-anchor="middle" textLength="135.0" lengthAdjust="spacingAndGlyphs">0.036</text>
<text x="1712.5" y="1352.7" text-anchor="middle" textLength="135.0" lengthAdjust="spacingAndGlyphs">0.048</text>
<text x="2091.6" y="1352.7" text-anchor="middle" textLength="105.0" lengthAdjust="spacingAndGlyphs">0.06</text>
</g>
<g font-family="'Liberation Serif', 'Times New Roman', serif" fill="#1c1c1c">
<text x="773.0" y="1430.2" font-size="67" textLength="741.2" lengthAdjust="spacingAndGlyphs">normalized Frequency(w/<tspan font-style="italic">π</tspan>)</text>
<text transform="translate(54.3,853.6) rotate(-90)" x="0" y="0" font-size="62.5" textLength="398.8" lengthAdjust="spacingAndGlyphs">Amplitude(dB)</text>
</g>
<rect x="231.8" y="64" width="838.7" height="199.5" fill="#fff" stroke="#111" stroke-width="2"/>
<g font-family="'Liberation Sans', Arial, sans-serif" font-style="italic" font-size="49.5" fill="#000">
<path d="M244.2,100.75H368.9" stroke="#ff0000" stroke-width="3.6"/>
<text x="380.4" y="120.0" textLength="457.4" lengthAdjust="spacingAndGlyphs">CIC with optimized IZ</text>
<path d="M244.2,164.6H368.9" stroke="#0000ff" stroke-width="4.8"/>
<text x="380.4" y="183.9" textLength="675.9" lengthAdjust="spacingAndGlyphs">Compensated before quantified</text>
<path d="M244.2,228.0H368.9" stroke="#00ffff" stroke-width="6"/>
<text x="380.4" y="247.3" textLength="635.0" lengthAdjust="spacingAndGlyphs">Compensated after quantified</text>
</g>
<rect x="1221.0" y="40.0" width="863.4000000000001" height="693.8" fill="#fff"/>
<g stroke="#262626" stroke-opacity="0.17" stroke-width="1.6" fill="none"><path d="M1436.85,40.0V733.8"/><path d="M1652.70,40.0V733.8"/><path d="M1868.55,40.0V733.8"/><path d="M1221.0,213.45H2084.4"/><path d="M1221.0,386.90H2084.4"/><path d="M1221.0,560.35H2084.4"/></g>
<path d="M1221.0,40.0H2084.4V733.8H1221.0ZM1436.85,733.8v-9M1436.85,40.0v9M1652.70,733.8v-9M1652.70,40.0v9M1868.55,733.8v-9M1868.55,40.0v9M1221.0,213.45h9M2084.4,213.45h-9M1221.0,386.90h9M2084.4,386.90h-9M1221.0,560.35h9M2084.4,560.35h-9" stroke="#262626" stroke-width="1.6" fill="none"/>
<g clip-path="url(#ci)" fill="none" stroke-linejoin="round">
<path d="M1260.80,20.55 L1262.53,26.77 L1264.26,32.97 L1265.99,39.14 L1267.72,45.27 L1269.45,51.38 L1271.18,57.46 L1272.91,63.50 L1274.64,69.51 L1276.37,75.50 L1278.10,81.45 L1279.83,87.37 L1281.56,93.26 L1283.29,99.12 L1285.02,104.95 L1286.75,110.74 L1288.48,116.51 L1290.21,122.25 L1291.94,127.95 L1293.67,133.62 L1295.40,139.27 L1297.13,144.88 L1298.86,150.46 L1300.59,156.00 L1302.32,161.52 L1304.05,167.01 L1305.78,172.46 L1307.51,177.88 L1309.24,183.27 L1310.97,188.63 L1312.70,193.96 L1314.43,199.26 L1316.16,204.52 L1317.89,209.76 L1319.62,214.96 L1321.36,220.13 L1323.09,225.27 L1324.82,230.37 L1326.55,235.45 L1328.28,240.49 L1330.01,245.50 L1331.74,250.48 L1333.47,255.43 L1335.20,260.34 L1336.93,265.22 L1338.66,270.08 L1340.39,274.89 L1342.12,279.68 L1343.85,284.43 L1345.58,289.16 L1347.31,293.85 L1349.04,298.50 L1350.77,303.13 L1352.50,307.72 L1354.23,312.28 L1355.96,316.81 L1357.69,321.30 L1359.42,325.77 L1361.15,330.20 L1362.88,334.59 L1364.61,338.96 L1366.34,343.29 L1368.07,347.59 L1369.80,351.86 L1371.53,356.09 L1373.26,360.29 L1374.99,364.46 L1376.72,368.59 L1378.45,372.70 L1380.18,376.77 L1381.91,380.80 L1383.64,384.81 L1385.37,388.78 L1387.11,392.71 L1388.84,396.62 L1390.57,400.49 L1392.30,404.32 L1394.03,408.13 L1395.76,411.90 L1397.49,415.64 L1399.22,419.34 L1400.95,423.01 L1402.68,426.65 L1404.41,430.25 L1406.14,433.82 L1407.87,437.36 L1409.60,440.86 L1411.33,444.33 L1413.06,447.77 L1414.79,451.17 L1416.52,454.54 L1418.25,457.87 L1419.98,461.17 L1421.71,464.44 L1423.44,467.67 L1425.17,470.87 L1426.90,474.04 L1428.63,477.17 L1430.36,480.27 L1432.09,483.33 L1433.82,486.36 L1435.55,489.35 L1437.28,492.31 L1439.01,495.24 L1440.74,498.13 L1442.47,500.99 L1444.20,503.81 L1445.93,506.60 L1447.66,509.36 L1449.39,512.08 L1451.12,514.76 L1452.85,517.42 L1454.59,520.03 L1456.32,522.62 L1458.05,525.16 L1459.78,527.68 L1461.51,530.16 L1463.24,532.60 L1464.97,535.01 L1466.70,537.38 L1468.43,539.72 L1470.16,542.03 L1471.89,544.30 L1473.62,546.53 L1475.35,548.73 L1477.08,550.90 L1478.81,553.03 L1480.54,555.12 L1482.27,557.18 L1484.00,559.20 L1485.73,561.19 L1487.46,563.15 L1489.19,565.07 L1490.92,566.95 L1492.65,568.80 L1494.38,570.61 L1496.11,572.39 L1497.84,574.13 L1499.57,575.84 L1501.30,577.51 L1503.03,579.15 L1504.76,580.75 L1506.49,582.31 L1508.22,583.84 L1509.95,585.33 L1511.68,586.79 L1513.41,588.21 L1515.14,589.60 L1516.87,590.95 L1518.60,592.26 L1520.34,593.54 L1522.07,594.78 L1523.80,595.99 L1525.53,597.16 L1527.26,598.30 L1528.99,599.39 L1530.72,600.46 L1532.45,601.48 L1534.18,602.47 L1535.91,603.43 L1537.64,604.35 L1539.37,605.23 L1541.10,606.07 L1542.83,606.88 L1544.56,607.65 L1546.29,608.39 L1548.02,609.09 L1549.75,609.75 L1551.48,610.38 L1553.21,610.97 L1554.94,611.52 L1556.67,612.04 L1558.40,612.52 L1560.13,612.97 L1561.86,613.37 L1563.59,613.74 L1565.32,614.08 L1567.05,614.37 L1568.78,614.63 L1570.51,614.86 L1572.24,615.04 L1573.97,615.19 L1575.70,615.30 L1577.43,615.38 L1579.16,615.42 L1580.89,615.42 L1582.62,615.38 L1584.35,615.31 L1586.08,615.20 L1587.82,615.05 L1589.55,614.87 L1591.28,614.64 L1593.01,614.38 L1594.74,614.09 L1596.47,613.75 L1598.20,613.38 L1599.93,612.97 L1601.66,612.52 L1603.39,612.04 L1605.12,611.52 L1606.85,610.96 L1608.58,610.36 L1610.31,609.73 L1612.04,609.05 L1613.77,608.34 L1615.50,607.59 L1617.23,606.81 L1618.96,605.98 L1620.69,605.12 L1622.42,604.22 L1624.15,603.29 L1625.88,602.31 L1627.61,601.30 L1629.34,600.25 L1631.07,599.16 L1632.80,598.03 L1634.53,596.86 L1636.26,595.66 L1637.99,594.42 L1639.72,593.13 L1641.45,591.82 L1643.18,590.46 L1644.91,589.06 L1646.64,587.63 L1648.37,586.16 L1650.10,584.65 L1651.83,583.10 L1653.57,581.51 L1655.30,579.88 L1657.03,578.22 L1658.76,576.51 L1660.49,574.77 L1662.22,572.99 L1663.95,571.17 L1665.68,569.31 L1667.41,567.41 L1669.14,565.48 L1670.87,563.50 L1672.60,561.49 L1674.33,559.44 L1676.06,557.34 L1677.79,555.21 L1679.52,553.04 L1681.25,550.83 L1682.98,548.59 L1684.71,546.30 L1686.44,543.97 L1688.17,541.61 L1689.90,539.20 L1691.63,536.76 L1693.36,534.28 L1695.09,531.75 L1696.82,529.19 L1698.55,526.59 L1700.28,523.95 L1702.01,521.27 L1703.74,518.55 L1705.47,515.79 L1707.20,512.99 L1708.93,510.15 L1710.66,507.27 L1712.39,504.36 L1714.12,501.40 L1715.85,498.40 L1717.58,495.36 L1719.32,492.29 L1721.05,489.17 L1722.78,486.01 L1724.51,482.82 L1726.24,479.58 L1727.97,476.30 L1729.70,472.99 L1731.43,469.63 L1733.16,466.24 L1734.89,462.80 L1736.62,459.32 L1738.35,455.81 L1740.08,452.25 L1741.81,448.65 L1743.54,445.01 L1745.27,441.34 L1747.00,437.62 L1748.73,433.86 L1750.46,430.06 L1752.19,426.22 L1753.92,422.34 L1755.65,418.42 L1757.38,414.46 L1759.11,410.46 L1760.84,406.42 L1762.57,402.33 L1764.30,398.21 L1766.03,394.05 L1767.76,389.84 L1769.49,385.60 L1771.22,381.31 L1772.95,376.98 L1774.68,372.62 L1776.41,368.21 L1778.14,363.76 L1779.87,359.27 L1781.60,354.74 L1783.33,350.16 L1785.06,345.55 L1786.80,340.89 L1788.53,336.20 L1790.26,331.46 L1791.99,326.68 L1793.72,321.86 L1795.45,317.00 L1797.18,312.10 L1798.91,307.16 L1800.64,302.17 L1802.37,297.15 L1804.10,292.08 L1805.83,286.97 L1807.56,281.82 L1809.29,276.63 L1811.02,271.40 L1812.75,266.12 L1814.48,260.80 L1816.21,255.45 L1817.94,250.05 L1819.67,244.61 L1821.40,239.12 L1823.13,233.60 L1824.86,228.03 L1826.59,222.42 L1828.32,216.77 L1830.05,211.08 L1831.78,205.35 L1833.51,199.57 L1835.24,193.75 L1836.97,187.89 L1838.70,181.99 L1840.43,176.04 L1842.16,170.06 L1843.89,164.03 L1845.62,157.96 L1847.35,151.85 L1849.08,145.69 L1850.81,139.49 L1852.55,133.25 L1854.28,126.97 L1856.01,120.65 L1857.74,114.28 L1859.47,107.87 L1861.20,101.42 L1862.93,94.93 L1864.66,88.39 L1866.39,81.81 L1868.12,75.19 L1869.85,68.52 L1871.58,61.82 L1873.31,55.07 L1875.04,48.27 L1876.77,41.44 L1878.50,34.56 L1880.23,27.64 L1881.96,20.67" stroke="#0000ff" stroke-width="2.6"/>
<path d="M1241.76,20.86 L1243.49,27.48 L1245.22,34.06 L1246.95,40.62 L1248.68,47.14 L1250.41,53.64 L1252.14,60.10 L1253.87,66.53 L1255.61,72.93 L1257.34,79.30 L1259.07,85.64 L1260.80,91.95 L1262.53,98.22 L1264.26,104.47 L1265.99,110.68 L1267.72,116.86 L1269.45,123.01 L1271.18,129.13 L1272.91,135.22 L1274.64,141.28 L1276.37,147.30 L1278.10,153.30 L1279.83,159.26 L1281.56,165.19 L1283.29,171.09 L1285.02,176.96 L1286.75,182.80 L1288.48,188.60 L1290.21,194.37 L1291.94,200.12 L1293.67,205.83 L1295.40,211.51 L1297.13,217.15 L1298.86,222.77 L1300.59,228.35 L1302.32,233.90 L1304.05,239.42 L1305.78,244.91 L1307.51,250.37 L1309.24,255.79 L1310.97,261.18 L1312.70,266.54 L1314.43,271.87 L1316.16,277.17 L1317.89,282.43 L1319.62,287.67 L1321.36,292.87 L1323.09,298.03 L1324.82,303.17 L1326.55,308.27 L1328.28,313.35 L1330.01,318.38 L1331.74,323.39 L1333.47,328.37 L1335.20,333.31 L1336.93,338.22 L1338.66,343.10 L1340.39,347.94 L1342.12,352.76 L1343.85,357.54 L1345.58,362.28 L1347.31,367.00 L1349.04,371.68 L1350.77,376.33 L1352.50,380.95 L1354.23,385.54 L1355.96,390.09 L1357.69,394.61 L1359.42,399.10 L1361.15,403.55 L1362.88,407.97 L1364.61,412.36 L1366.34,416.72 L1368.07,421.04 L1369.80,425.33 L1371.53,429.59 L1373.26,433.81 L1374.99,438.00 L1376.72,442.16 L1378.45,446.28 L1380.18,450.38 L1381.91,454.43 L1383.64,458.46 L1385.37,462.45 L1387.11,466.41 L1388.84,470.34 L1390.57,474.23 L1392.30,478.09 L1394.03,481.92 L1395.76,485.71 L1397.49,489.47 L1399.22,493.20 L1400.95,496.89 L1402.68,500.55 L1404.41,504.17 L1406.14,507.77 L1407.87,511.32 L1409.60,514.85 L1411.33,518.34 L1413.06,521.80 L1414.79,525.22 L1416.52,528.61 L1418.25,531.97 L1419.98,535.29 L1421.71,538.58 L1423.44,541.84 L1425.17,545.06 L1426.90,548.24 L1428.63,551.40 L1430.36,554.52 L1432.09,557.60 L1433.82,560.65 L1435.55,563.67 L1437.28,566.65 L1439.01,569.60 L1440.74,572.52 L1442.47,575.40 L1444.20,578.24 L1445.93,581.06 L1447.66,583.83 L1449.39,586.58 L1451.12,589.29 L1452.85,591.96 L1454.59,594.60 L1456.32,597.21 L1458.05,599.78 L1459.78,602.31 L1461.51,604.82 L1463.24,607.28 L1464.97,609.72 L1466.70,612.12 L1468.43,614.48 L1470.16,616.81 L1471.89,619.10 L1473.62,621.36 L1475.35,623.59 L1477.08,625.77 L1478.81,627.93 L1480.54,630.05 L1482.27,632.13 L1484.00,634.18 L1485.73,636.20 L1487.46,638.18 L1489.19,640.12 L1490.92,642.03 L1492.65,643.91 L1494.38,645.75 L1496.11,647.55 L1497.84,649.32 L1499.57,651.05 L1501.30,652.75 L1503.03,654.41 L1504.76,656.04 L1506.49,657.63 L1508.22,659.19 L1509.95,660.71 L1511.68,662.20 L1513.41,663.65 L1515.14,665.06 L1516.87,666.44 L1518.60,667.78 L1520.34,669.09 L1522.07,670.36 L1523.80,671.60 L1525.53,672.79 L1527.26,673.96 L1528.99,675.09 L1530.72,676.18 L1532.45,677.24 L1534.18,678.26 L1535.91,679.24 L1537.64,680.19 L1539.37,681.10 L1541.10,681.98 L1542.83,682.82 L1544.56,683.62 L1546.29,684.39 L1548.02,685.12 L1549.75,685.81 L1551.48,686.47 L1553.21,687.09 L1554.94,687.68 L1556.67,688.23 L1558.40,688.74 L1560.13,689.22 L1561.86,689.66 L1563.59,690.06 L1565.32,690.43 L1567.05,690.76 L1568.78,691.05 L1570.51,691.31 L1572.24,691.52 L1573.97,691.71 L1575.70,691.85 L1577.43,691.96 L1579.16,692.03 L1580.89,692.07 L1582.62,692.07 L1584.35,692.03 L1586.08,691.95 L1587.82,691.84 L1589.55,691.69 L1591.28,691.50 L1593.01,691.28 L1594.74,691.02 L1596.47,690.72 L1598.20,690.38 L1599.93,690.01 L1601.66,689.60 L1603.39,689.15 L1605.12,688.66 L1606.85,688.14 L1608.58,687.58 L1610.31,686.98 L1612.04,686.34 L1613.77,685.67 L1615.50,684.95 L1617.23,684.20 L1618.96,683.42 L1620.69,682.59 L1622.42,681.73 L1624.15,680.83 L1625.88,679.89 L1627.61,678.91 L1629.34,677.90 L1631.07,676.84 L1632.80,675.75 L1634.53,674.62 L1636.26,673.46 L1637.99,672.25 L1639.72,671.01 L1641.45,669.73 L1643.18,668.41 L1644.91,667.05 L1646.64,665.65 L1648.37,664.22 L1650.10,662.74 L1651.83,661.23 L1653.57,659.68 L1655.30,658.09 L1657.03,656.46 L1658.76,654.79 L1660.49,653.09 L1662.22,651.34 L1663.95,649.56 L1665.68,647.74 L1667.41,645.88 L1669.14,643.98 L1670.87,642.04 L1672.60,640.06 L1674.33,638.05 L1676.06,635.99 L1677.79,633.90 L1679.52,631.76 L1681.25,629.59 L1682.98,627.38 L1684.71,625.13 L1686.44,622.83 L1688.17,620.50 L1689.90,618.13 L1691.63,615.73 L1693.36,613.28 L1695.09,610.79 L1696.82,608.26 L1698.55,605.70 L1700.28,603.09 L1702.01,600.44 L1703.74,597.76 L1705.47,595.03 L1707.20,592.26 L1708.93,589.46 L1710.66,586.61 L1712.39,583.73 L1714.12,580.80 L1715.85,577.84 L1717.58,574.83 L1719.32,571.79 L1721.05,568.70 L1722.78,565.58 L1724.51,562.41 L1726.24,559.21 L1727.97,555.96 L1729.70,552.67 L1731.43,549.35 L1733.16,545.98 L1734.89,542.57 L1736.62,539.12 L1738.35,535.63 L1740.08,532.11 L1741.81,528.54 L1743.54,524.93 L1745.27,521.27 L1747.00,517.58 L1748.73,513.85 L1750.46,510.08 L1752.19,506.26 L1753.92,502.41 L1755.65,498.51 L1757.38,494.57 L1759.11,490.59 L1760.84,486.57 L1762.57,482.51 L1764.30,478.41 L1766.03,474.27 L1767.76,470.09 L1769.49,465.86 L1771.22,461.59 L1772.95,457.29 L1774.68,452.94 L1776.41,448.54 L1778.14,444.11 L1779.87,439.64 L1781.60,435.12 L1783.33,430.57 L1785.06,425.97 L1786.80,421.33 L1788.53,416.64 L1790.26,411.92 L1791.99,407.15 L1793.72,402.34 L1795.45,397.49 L1797.18,392.60 L1798.91,387.67 L1800.64,382.69 L1802.37,377.67 L1804.10,372.61 L1805.83,367.51 L1807.56,362.37 L1809.29,357.18 L1811.02,351.95 L1812.75,346.68 L1814.48,341.37 L1816.21,336.01 L1817.94,330.61 L1819.67,325.17 L1821.40,319.68 L1823.13,314.16 L1824.86,308.59 L1826.59,302.97 L1828.32,297.32 L1830.05,291.62 L1831.78,285.88 L1833.51,280.10 L1835.24,274.27 L1836.97,268.40 L1838.70,262.49 L1840.43,256.53 L1842.16,250.53 L1843.89,244.49 L1845.62,238.41 L1847.35,232.28 L1849.08,226.10 L1850.81,219.89 L1852.55,213.63 L1854.28,207.33 L1856.01,200.98 L1857.74,194.59 L1859.47,188.16 L1861.20,181.68 L1862.93,175.16 L1864.66,168.60 L1866.39,161.99 L1868.12,155.34 L1869.85,148.65 L1871.58,141.91 L1873.31,135.12 L1875.04,128.30 L1876.77,121.42 L1878.50,114.51 L1880.23,107.55 L1881.96,100.55 L1883.69,93.50 L1885.42,86.41 L1887.15,79.27 L1888.88,72.09 L1890.61,64.86 L1892.34,57.59 L1894.07,50.28 L1895.80,42.92 L1897.53,35.52 L1899.26,28.07 L1900.99,20.58" stroke="#00ffff" stroke-width="3.2"/>
</g>
<g font-family="'Liberation Sans', Arial, sans-serif" font-size="37" fill="#1c1c1c">
<text x="1205.5" y="54.5" text-anchor="end">-0.045</text>
<text x="1206.3" y="228.0" text-anchor="end" textLength="123.2" lengthAdjust="spacingAndGlyphs">-0.0455</text>
<text x="1205.5" y="401.4" text-anchor="end">-0.046</text>
<text x="1206.3" y="574.9" text-anchor="end" textLength="123.2" lengthAdjust="spacingAndGlyphs">-0.0465</text>
<text x="1205.5" y="748.3" text-anchor="end">-0.047</text>
<text x="1219.7" y="784.2" text-anchor="middle">6</text>
<text x="1435.5" y="784.2" text-anchor="middle">6.5</text>
<text x="1651.4" y="784.2" text-anchor="middle">7</text>
<text x="1867.2" y="784.2" text-anchor="middle">7.5</text>
<text x="2083.1" y="784.2" text-anchor="middle">8</text>
<text x="1988.3" y="846.3" font-family="'Liberation Serif', serif" font-size="39.5">×</text>
<text x="2014" y="841.8" font-size="37">10</text>
<text x="2056" y="826.6" font-size="30">-3</text>
</g>
<g font-family="'Liberation Serif', 'Times New Roman', serif" fill="#1c1c1c">
<text x="1401.5" y="836" font-size="42" textLength="499" lengthAdjust="spacingAndGlyphs">normalized Frequency(w/<tspan font-style="italic">π</tspan>)</text>
<text transform="translate(1054.1,519.9) rotate(-90)" x="0" y="0" font-size="42" textLength="267.8" lengthAdjust="spacingAndGlyphs">Amplitude(dB)</text>
</g>
<path d="M1080,29.0H1215" stroke="#0c0c0c" stroke-width="2" fill="none"/>
</svg>
</body></html>
